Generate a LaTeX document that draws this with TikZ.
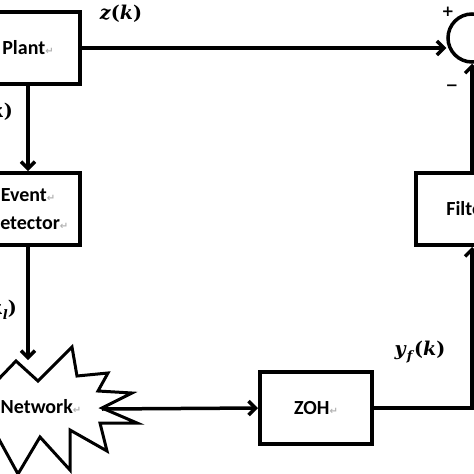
\documentclass[tikz,border=0pt]{standalone}
\usepackage[no-math]{fontspec}
\setmainfont{Carlito}
\newfontfamily\symfont{DejaVu Sans}
\newfontfamily\labfont{DejaVu Serif}
\usetikzlibrary{arrows.meta}
\newcommand{\ret}{{\symfont\fontsize{10}{10}\selectfont\textcolor{gray!60}{↵}}}
\newcommand{\lv}[1]{\textit{#1}}
\newcommand{\lsub}[1]{\raisebox{-5pt}{\fontsize{13}{13}\selectfont\textit{#1}}}

\begin{document}
\begin{tikzpicture}[x=1pt, y=-1pt, line width=3.5pt,
   blk/.style={draw, line width=4pt, minimum width=112pt, minimum height=72pt,
               align=center, font=\fontsize{20}{28}\selectfont\bfseries},
   lab/.style={font=\labfont\fontsize{19}{22}\selectfont\bfseries},
   sgn/.style={font=\symfont\fontsize{15}{15}\selectfont\bfseries},
   >={Straight Barb[length=7pt,width=14pt]}]
   \useasboundingbox (0,0) rectangle (474,474);
   % blocks
   \node (plant) [blk, minimum width=104pt] at (28,48) {Plant\ret};
   \node (event) [blk, minimum width=104pt] at (28,209) {Event\ret\\Detector\ret};
   \node (zoh) [blk] at (316,408) {ZOH\ret};
   \node (filter) [blk] at (472,209) {Filter\ret};
   \node (sum) [draw, circle, minimum size=48pt, inner sep=0pt] at (472,38) {};
   % network
   \draw [line width=3pt, line join=miter] (-30,418) -- (-8,386) -- (16,361) -- (38,381)
      -- (72,347) -- (77,376) -- (108,373) -- (98,391) -- (132,393) -- (102,408)
      -- (137,423) -- (100,423) -- (107,451) -- (70,430) -- (70,470) -- (40,437)
      -- (18,474) -- (-5,432) -- cycle;
   \node (net) [font=\fontsize{20}{22}\selectfont\bfseries] at (41,407) {Network\ret};
   \coordinate (netin) at (28,360);
   \coordinate (netout) at (102,409);
   % connections
   \draw [->] (plant.east) -- (plant.east -| sum.west);
   \draw [->] (plant) -- (event);
   \draw [->] (event.south) -- (netin);
   \draw [->] (netout) -- (zoh.west);
   \draw [->] (zoh.east) -| (filter.south);
   \draw [->] (filter.north) -- (sum.south);
   % labels
   \node (zlab) [lab] at (121,14) {\lv{z}(\lv{k})};
   \node (ylab) [lab, anchor=east] at (18,112) {\lv{y}(\lv{k})};
   \node (yllab) [lab, anchor=east] at (22,310) {\lv{y}(\lv{k}\lsub{l})};
   \node (yflab) [lab] at (420,352) {\lv{y}\lsub{f}(\lv{k})};
   \node (plus) [sgn] at (448,12) {+};
   \node (minus) [sgn] at (452,88) {−};
\end{tikzpicture}
\end{document}
